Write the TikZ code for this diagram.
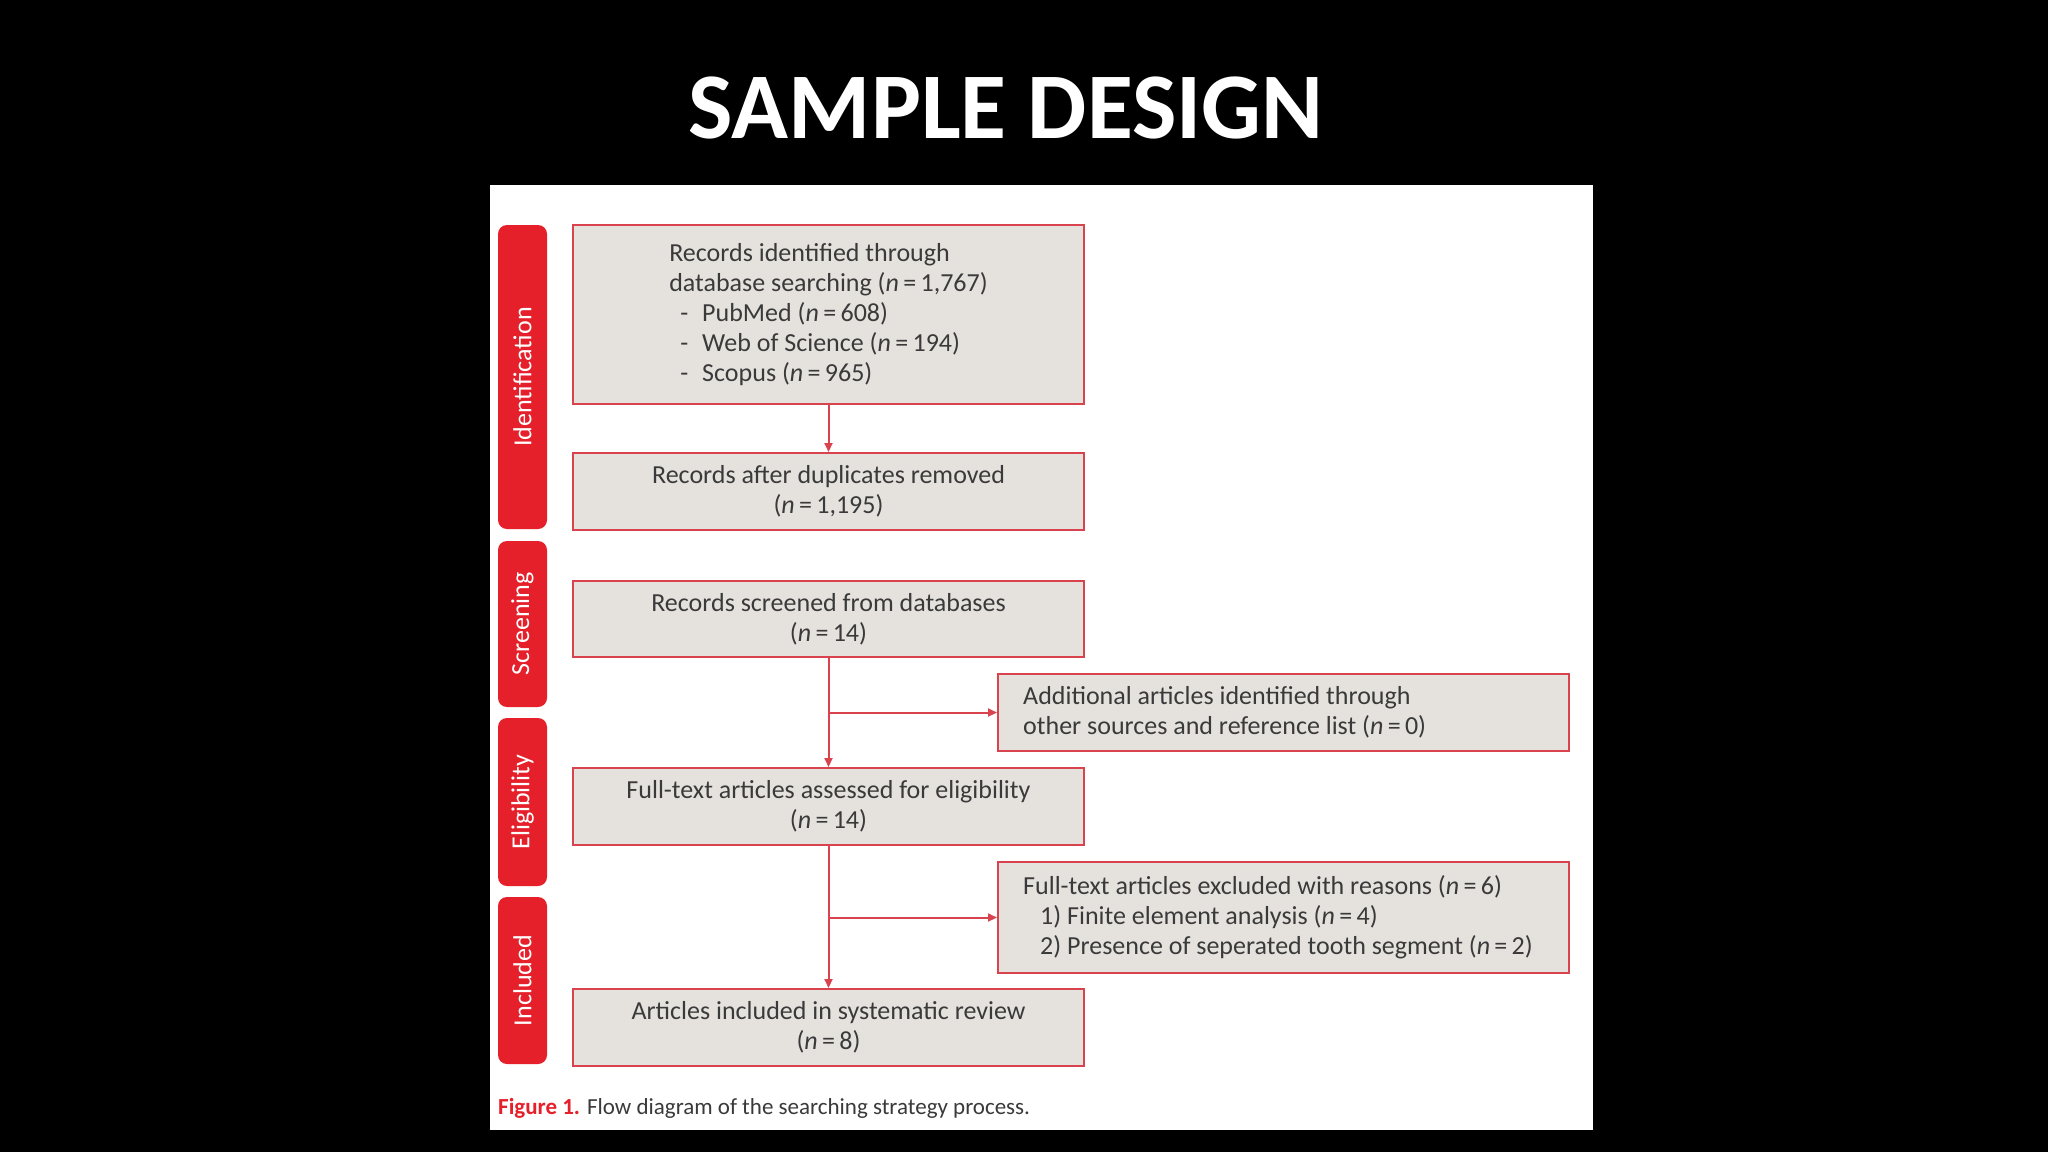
\documentclass[tikz,border=0pt]{standalone}
\usepackage{fontspec}
\setmainfont{Carlito}
\usetikzlibrary{arrows.meta}
\definecolor{barred}{HTML}{E5202B}
\definecolor{boxline}{HTML}{D8434E}
\definecolor{boxfill}{HTML}{E5E2DE}
\definecolor{boxtext}{HTML}{3A3A3A}
\begin{document}
\begin{tikzpicture}[x=1pt,y=-1pt,
  box/.style={draw=boxline, line width=2pt, fill=boxfill, text=boxtext, inner sep=0pt,
    font=\fontsize{26}{30}\selectfont, align=center},
  sidebox/.style={box, minimum width=571pt},
  sidetext/.style={anchor=west, inner sep=0pt, text=boxtext, align=left,
    font=\fontsize{26}{30}\selectfont},
  bar/.style={fill=barred, rounded corners=9pt, minimum width=49pt, inner sep=0pt},
  barlabel/.style={rotate=90, text=white, font=\fontsize{26}{30}\selectfont},
  arr/.style={draw=boxline, line width=2pt, -{Triangle[length=9pt,width=8pt]}}]
\useasboundingbox (0,0) rectangle (2048,1152);
\fill[black] (0,0) rectangle (2048,1152);
\fill[white] (490,185) rectangle (1593,1130);
\node[anchor=base, text=white, font=\fontsize{94}{100}\selectfont\bfseries] (title) at (1006,138) {SAMPLE DESIGN};
% side bars
\node[bar, minimum height=304pt] (bid) at (522.5,377) {};
\node[barlabel] (lid) at (bid.center) {Identification};
\node[bar, minimum height=166pt] (bsc) at (522.5,624) {};
\node[barlabel] (lsc) at (bsc.center) {Screening};
\node[bar, minimum height=168pt] (bel) at (522.5,802) {};
\node[barlabel] (lel) at (bel.center) {Eligibility};
\node[bar, minimum height=167pt] (bin) at (522.5,980.5) {};
\node[barlabel] (lin) at (bin.center) {Included};
% main boxes
\node[box, align=left, minimum width=511pt, minimum height=179pt] (b1) at (828.5,314.5)
 {Records identified through\\
  database searching (\textit{n}\,=\,1,767)\\
  \hspace*{11pt}-\hspace{14pt}PubMed (\textit{n}\,=\,608)\\
  \hspace*{11pt}-\hspace{14pt}Web of Science (\textit{n}\,=\,194)\\
  \hspace*{11pt}-\hspace{14pt}Scopus (\textit{n}\,=\,965)};
\node[box, minimum width=511pt, minimum height=77pt] (b2) at (828.5,491.5)
 {Records after duplicates removed\\(\textit{n}\,=\,1,195)};
\node[box, minimum width=511pt, minimum height=76pt] (b3) at (828.5,619)
 {Records screened from databases\\(\textit{n}\,=\,14)};
\node[box, minimum width=511pt, minimum height=77pt] (b4) at (828.5,806.5)
 {Full-text articles assessed for eligibility\\(\textit{n}\,=\,14)};
\node[box, minimum width=511pt, minimum height=77pt] (b6) at (828.5,1027.5)
 {Articles included in systematic review\\(\textit{n}\,=\,8)};
\node[sidebox, minimum height=77pt] (b5) at (1283.5,712.5) {};
\node[sidetext] (t5) at ([xshift=26pt]b5.west)
 {Additional articles identified through\\other sources and reference list (\textit{n}\,=\,0)};
\node[sidebox, minimum height=111pt] (b7) at (1283.5,917.5) {};
\node[sidetext] (t7) at ([xshift=26pt]b7.west)
 {Full-text articles excluded with reasons (\textit{n}\,=\,6)\\
  \hspace*{17pt}1)\ Finite element analysis (\textit{n}\,=\,4)\\
  \hspace*{17pt}2) Presence of seperated tooth segment (\textit{n}\,=\,2)};
% connectors
\coordinate (c1) at (b3.south |- b5.west);
\coordinate (c2) at (b4.south |- b7.west);
\draw[arr] (b1) -- (b2);
\draw[arr] (b3) -- (b4);
\draw[arr] (c1) -- (b5);
\draw[arr] (b4) -- (b6);
\draw[arr] (c2) -- (b7);
% caption
\node[anchor=base west, inner sep=0pt, text=boxtext, font=\fontsize{23}{26}\selectfont] (cap) at (498,1114)
 {{\color{barred}\bfseries Figure 1.} Flow diagram of the searching strategy process.};
\end{tikzpicture}
\end{document}
